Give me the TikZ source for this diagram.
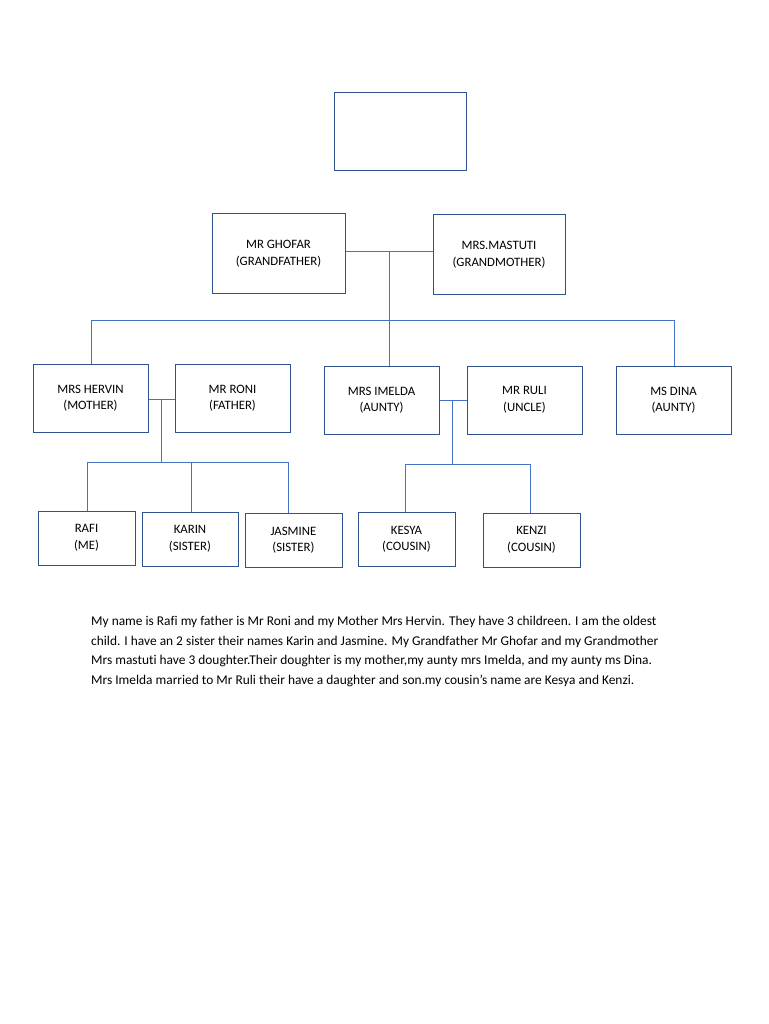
\documentclass[tikz,border=0pt]{standalone}
\usepackage{fontspec}
\setmainfont[RawFeature={-liga}]{Carlito}
\begin{document}
\begin{tikzpicture}[x=1pt,y=-1pt,
  box/.style={draw=boxc,line width=1pt,fill=white,inner sep=0pt,align=center,font=\fontsize{12.8}{16.5}\selectfont},
  ln/.style={draw=linec,line width=0.8pt}]
\definecolor{boxc}{RGB}{47,82,143}
\definecolor{linec}{RGB}{68,114,196}
\useasboundingbox (0,0) rectangle (768,1024);
\newcommand\bx[6]{\node[box,minimum width=#4-#2,minimum height=#5-#3] (#1) at ({(#2+#4)/2},{(#3+#5)/2}) {#6};}
\bx{top}{334}{93}{466}{171}{}
\bx{gf}{212}{214}{345}{293}{MR GHOFAR\\(GRANDFATHER)}
\bx{gm}{433}{215}{565}{294}{MRS.MASTUTI\\(GRANDMOTHER)}
\bx{mo}{33}{364}{148}{432}{MRS HERVIN\\(MOTHER)}
\bx{fa}{175}{364}{290}{432}{MR RONI\\(FATHER)}
\bx{im}{324}{366}{439}{434}{MRS IMELDA\\(AUNTY)}
\bx{ru}{467}{366}{582}{434}{MR RULI\\(UNCLE)}
\bx{di}{616}{366}{731}{434}{MS DINA\\(AUNTY)}
\bx{ra}{38}{511}{135}{565}{RAFI\\(ME)}
\bx{ka}{142}{512}{238}{566}{KARIN\\(SISTER)}
\bx{ja}{245}{513}{342}{567}{JASMINE\\(SISTER)}
\bx{ke}{358}{512}{455}{566}{KESYA\\(COUSIN)}
\bx{kz}{483}{513}{580}{567}{KENZI\\(COUSIN)}
\coordinate (j1) at (389,251);
\coordinate (b1) at (389,320);
\coordinate (b1l) at (91,320);
\coordinate (b1r) at (674,320);
\draw[ln] (gf.east|-j1) -- (gm.west|-j1);
\draw[ln] (j1) -- (b1);
\draw[ln] (b1l) -- (b1r);
\draw[ln] (b1l) -- (b1l|-mo.north);
\draw[ln] (b1) -- (b1|-im.north);
\draw[ln] (b1r) -- (b1r|-di.north);
\coordinate (j2) at (161,399);
\coordinate (b2) at (161,462);
\coordinate (b2l) at (87,462);
\coordinate (b2m) at (191,462);
\coordinate (b2r) at (288,462);
\draw[ln] (mo.east|-j2) -- (fa.west|-j2);
\draw[ln] (j2) -- (b2);
\draw[ln] (b2l) -- (b2r);
\draw[ln] (b2l) -- (b2l|-ra.north);
\draw[ln] (b2m) -- (b2m|-ka.north);
\draw[ln] (b2r) -- (b2r|-ja.north);
\coordinate (j3) at (452,400);
\coordinate (b3) at (452,464);
\coordinate (b3l) at (405,464);
\coordinate (b3r) at (530,464);
\draw[ln] (im.east|-j3) -- (ru.west|-j3);
\draw[ln] (j3) -- (b3);
\draw[ln] (b3l) -- (b3r);
\draw[ln] (b3l) -- (b3l|-ke.north);
\draw[ln] (b3r) -- (b3r|-kz.north);
\node[anchor=north west,inner sep=0pt,align=left,font=\fontsize{13.4}{19.7}\selectfont] (txt) at (91,616) {My name is Rafi my father is Mr Roni and my Mother Mrs Hervin. They have 3 childreen. I am the oldest\\child. I have an 2 sister their names Karin and Jasmine. My Grandfather Mr Ghofar and my Grandmother\\Mrs mastuti have 3 doughter.Their doughter is my mother,my aunty mrs Imelda, and my aunty ms Dina.\\Mrs Imelda married to Mr Ruli their have a daughter and son.my cousin’s name are Kesya and Kenzi.};
\end{tikzpicture}
\end{document}
